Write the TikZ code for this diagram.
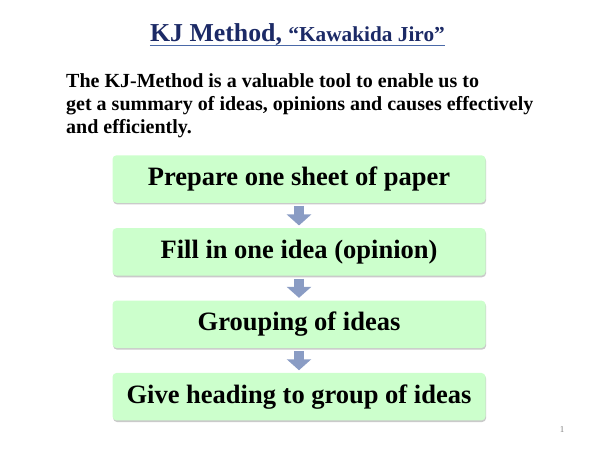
\documentclass[tikz,border=0pt]{standalone}
\usepackage{fontspec}
\setmainfont{Liberation Serif}
\usetikzlibrary{positioning,arrows.meta,shadows}

\definecolor{titleblue}{HTML}{1C2A66}
\definecolor{lineblue}{HTML}{4A69A8}
\definecolor{boxgreen}{HTML}{CCFFCC}
\definecolor{arrowblue}{HTML}{8A9CC4}

\tikzset{
  stepbox/.style={fill=boxgreen, rounded corners=4pt,
    minimum width=373pt, minimum height=47.5pt, inner sep=0pt,
    font=\bfseries\fontsize{26.5}{30}\selectfont,
    drop shadow={shadow xshift=0.6pt, shadow yshift=-1.6pt, opacity=0.35, fill=black!60}},
  downarrow/.style={draw=arrowblue, line width=10pt,
    -{Triangle[length=11pt,width=24pt]}, shorten <=3pt, shorten >=2.5pt}
}

\begin{document}
\begin{tikzpicture}[x=1pt,y=-1pt]
\useasboundingbox (0,0) rectangle (600,450);

% title
\node[anchor=base, inner sep=0pt, text=titleblue, font=\bfseries] (title) at (297.5,41)
  {\fontsize{25.8}{28}\selectfont KJ Method, {\fontsize{21.3}{24}\selectfont “Kawakida Jiro”}};
\draw[lineblue, line width=1pt] ([yshift=-4.5pt]title.base west) -- ([yshift=-4.5pt]title.base east);

% text
\node[anchor=base west, inner sep=0pt, align=left, font=\bfseries\fontsize{20}{22.8}\selectfont] (intro) at (66,133)
  {The KJ-Method is a valuable tool to enable us to\\
   get a summary of ideas, opinions and causes effectively\\
   and efficiently.};

% steps
\node[stepbox] (paper) at (299,179) {Prepare one sheet of paper};
\node[stepbox, below=25pt of paper] (idea) {Fill in one idea (opinion)};
\node[stepbox, below=24.5pt of idea] (group) {Grouping of ideas};
\node[stepbox, below=24.5pt of group] (heading) {Give heading to group of ideas};

\draw[downarrow] (paper) -- (idea);
\draw[downarrow] (idea) -- (group);
\draw[downarrow] (group) -- (heading);

\node[text=black!50, font=\fontsize{9}{10}\selectfont] (page) at (562,430) {1};
\end{tikzpicture}
\end{document}
